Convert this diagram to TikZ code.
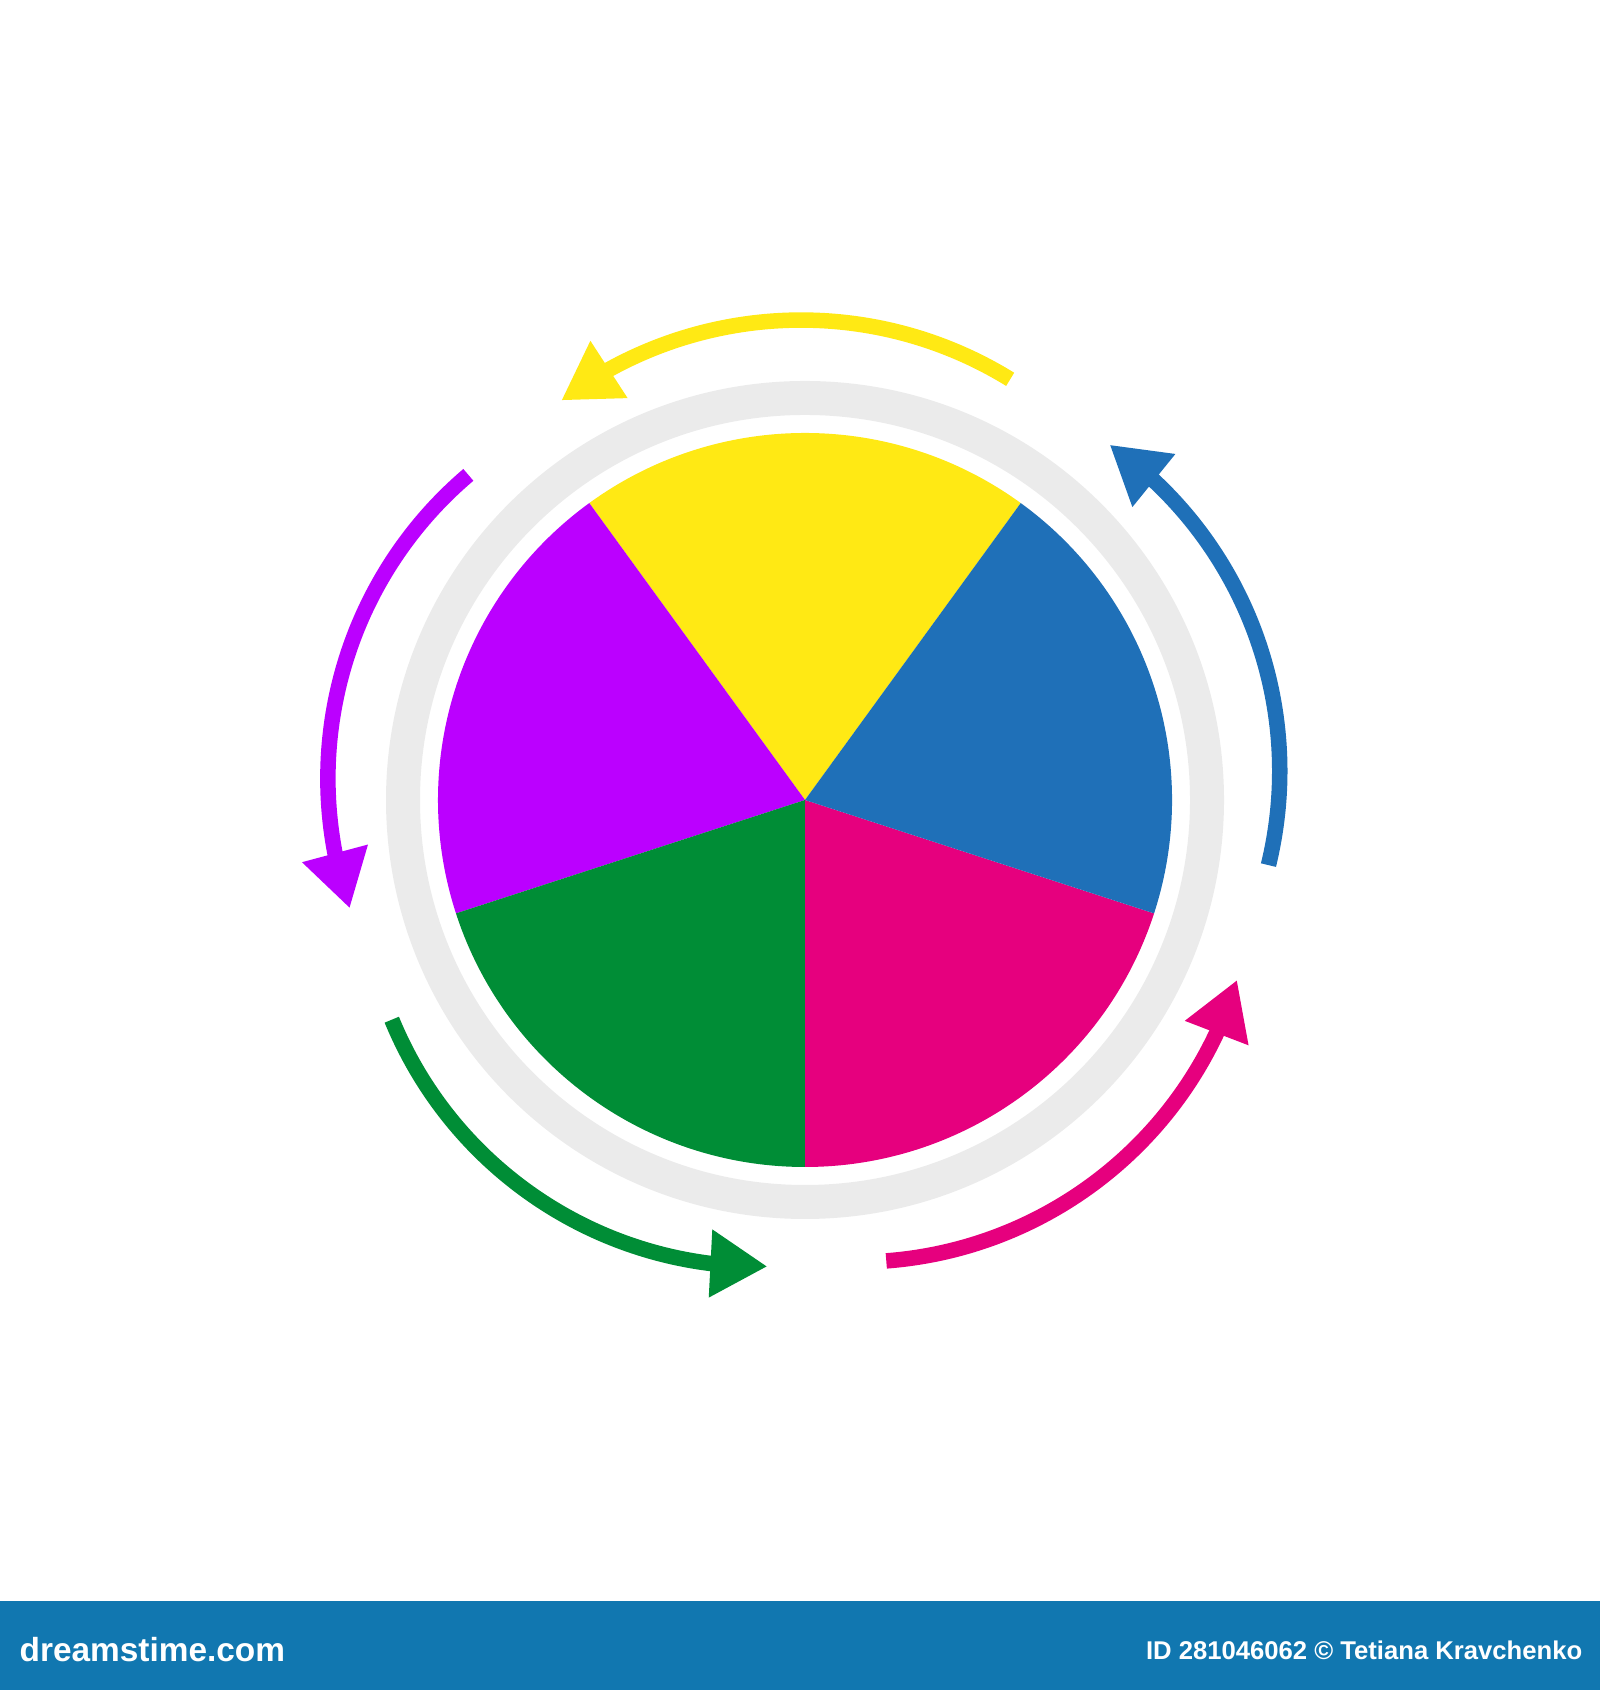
\documentclass[tikz,border=0pt]{standalone}
\usepackage{fontspec}
\newfontfamily\barfont{Liberation Sans}
\usepackage{tikz}
\usetikzlibrary{arrows.meta}
\usetikzlibrary{bending}
\definecolor{pieyellow}{HTML}{FFE914}
\definecolor{piepurple}{HTML}{BB00FF}
\definecolor{pieblue}{HTML}{1F70B8}
\definecolor{piemagenta}{HTML}{E6007E}
\definecolor{piegreen}{HTML}{008D36}
\definecolor{ringgray}{HTML}{EBEBEB}
\definecolor{barblue}{HTML}{1177B0}

\begin{document}
\begin{tikzpicture}[flow/.style={line width=1.55mm, -{Triangle[length=5.7mm,width=6.4mm,flex]}},
		bartext/.style={text=white, font=\barfont\bfseries, inner sep=0pt}]
			\useasboundingbox (0,0) rectangle (16,16.9);
			\coordinate (c) at (8.05,8.90);
			% pie
			\fill [pieyellow] (c) -- ++(54:3.67) arc [start angle=54, end angle=126, radius=3.67] -- cycle;
			\fill [piepurple] (c) -- ++(126:3.67) arc [start angle=126, end angle=198, radius=3.67] -- cycle;
			\fill [piegreen] (c) -- ++(198:3.67) arc [start angle=198, end angle=270, radius=3.67] -- cycle;
			\fill [piemagenta] (c) -- ++(270:3.67) arc [start angle=270, end angle=342, radius=3.67] -- cycle;
			\fill [pieblue] (c) -- ++(-18:3.67) arc [start angle=-18, end angle=54, radius=3.67] -- cycle;
			\draw [ringgray, line width=3.4mm] (c) circle [radius=4.02];
			% arrows round the ring (a bit more curved than the ring)
			\draw [flow, pieyellow] ([shift={(64:4.68)}]c) arc [start angle=58.33, end angle=127.07, radius=3.981];
			\draw [flow, piepurple] ([shift={(136:4.68)}]c) arc [start angle=130.33, end angle=199.07, radius=3.981];
			\draw [flow, piegreen] ([shift={(208:4.68)}]c) arc [start angle=202.33, end angle=271.07, radius=3.981];
			\draw [flow, piemagenta] ([shift={(280:4.68)}]c) arc [start angle=274.33, end angle=343.07, radius=3.981];
			\draw [flow, pieblue] ([shift={(-8:4.68)}]c) arc [start angle=-13.67, end angle=55.07, radius=3.981];
			% bottom bar
			\fill [barblue] (0,0) rectangle (16,0.89);
			\node [bartext, anchor=west, font=\barfont\bfseries\fontsize{9.5}{11}\selectfont] (logo) at (0.19,0.40) {dreamstime.com};
			\node [bartext, anchor=east, font=\barfont\bfseries\fontsize{7.3}{9}\selectfont] (credit) at (15.83,0.40) {ID 281046062 © Tetiana Kravchenko};
		\end{tikzpicture}
\end{document}
